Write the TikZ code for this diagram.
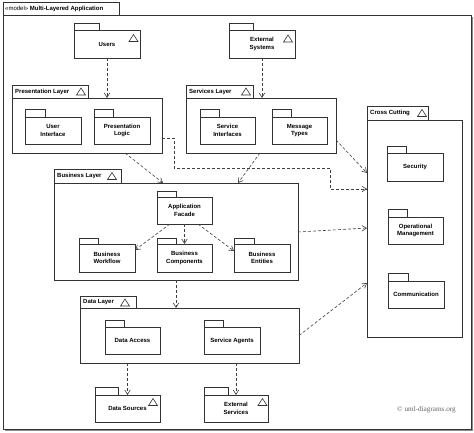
\documentclass[tikz,border=0pt]{standalone}
\usepackage{fontspec}
\setmainfont{Liberation Sans}
\newfontfamily\copyfont{Liberation Serif}
\usetikzlibrary{arrows.meta,calc}
\tikzset{
  ln/.style={draw=black!80, line width=0.6pt},
  pkgbody/.style={ln, rectangle, inner sep=0pt, outer sep=0pt, align=center,
    font=\fontsize{6}{7.4}\selectfont\bfseries},
  lbl/.style={inner sep=0pt, font=\fontsize{6}{7.4}\selectfont\bfseries},
  dep/.style={draw=black!75, line width=0.6pt, dash pattern=on 3pt off 2pt,
    -{Straight Barb[length=4.5pt,width=5.5pt]}},
}
% package: name, x1, tab top, tab x2, body top, x2, bottom, text
\newcommand\pkg[8]{%
  \pgfmathsetmacro\pkgw{#6-#2}\pgfmathsetmacro\pkgh{#7-#5}%
  \draw[ln] (#2,#5) |- (#4,#3) -- (#4,#5);
  \node[pkgbody, minimum width=\pkgw pt, minimum height=\pkgh pt] (#1) at ({(#2+#6)/2},{(#5+#7)/2}) {#8};
}
% layer: same arguments, text in the tab
\newcommand\layer[8]{%
  \pgfmathsetmacro\pkgw{#6-#2}\pgfmathsetmacro\pkgh{#7-#5}%
  \draw[ln] (#2,#5) |- (#4,#3) -- (#4,#5);
  \node[pkgbody, minimum width=\pkgw pt, minimum height=\pkgh pt] (#1) at ({(#2+#6)/2},{(#5+#7)/2}) {};
  \node[lbl, anchor=west] (#1-lbl) at ({#2+3},{(#3+#5)/2}) {#8};
}
\newcommand\tri[2]{%
  \draw[ln, line join=miter] ({#1-4.5},{#2+3.5}) -- ({#1+4.5},{#2+3.5}) -- (#1,{#2-3.5}) -- cycle;
}
\begin{document}
\begin{tikzpicture}[x=1pt,y=-1pt]
\useasboundingbox (0,0) rectangle (474,432);
% outer model frame
\fill[black!45] (5,17) rectangle (473,431);
\draw[ln, fill=white] (3,15) rectangle (471,429);
\draw[ln] (3,15) |- (119,2) -- (119,15);
\node[lbl, anchor=west] (title) at (5,8.5) {{\mdseries «model»} Multi-Layered Application};

% top packages
\pkg{users}{74}{23}{99}{30}{140}{58}{Users}
\tri{133.5}{38}
\pkg{extsys}{229}{23}{253}{30}{295}{58}{External\\Systems}
\tri{288}{38.5}

% presentation layer
\layer{pres}{12}{85}{88}{98}{162}{153}{Presentation Layer}
\tri{81}{91.5}
\pkg{ui}{25}{109}{45}{117}{81}{144}{User\\Interface}
\pkg{plogic}{94}{109}{113}{117}{150}{144}{Presentation\\Logic}

% services layer
\layer{serv}{186}{85}{253}{98}{336}{153}{Services Layer}
\tri{246}{91.5}
\pkg{svcint}{200}{109}{219}{117}{255}{144}{Service\\Interfaces}
\pkg{msg}{272}{109}{291}{117}{327}{144}{Message\\Types}

% cross cutting
\layer{cross}{367}{106}{428}{120}{462}{337}{Cross Cutting}
\tri{422}{113}
\pkg{sec}{387}{146}{406}{153}{443}{181}{Security}
\pkg{ops}{388}{209}{407}{217}{443}{244}{Operational\\Management}
\pkg{comm}{388}{273}{408}{281}{444}{308}{Communication}

% business layer
\layer{bus}{54}{169}{121}{183}{298}{280}{Business Layer}
\tri{112}{176}
\pkg{fac}{157}{191}{176}{197}{212}{224}{Application\\Facade}
\pkg{wf}{79}{238}{98}{244}{135}{272}{Business\\Workflow}
\pkg{comp}{157}{238}{176}{244}{212}{272}{Business\\Components}
\pkg{ent}{234}{238}{254}{244}{290}{272}{Business\\Entities}

% data layer
\layer{data}{80}{296}{136}{308}{299}{363}{Data Layer}
\tri{125}{302.5}
\pkg{dacc}{105}{320}{124}{327}{160}{354}{Data Access}
\pkg{sagt}{204}{320}{223}{327}{260}{354}{Service Agents}

% bottom packages
\pkg{dsrc}{95}{387}{118}{395}{160}{422}{Data Sources}
\tri{153}{402}
\pkg{extsvc}{204}{387}{228}{395}{268}{422}{External\\Services}
\tri{262.5}{402}

% copyright
\node[inner sep=0pt, text=black!60, font=\copyfont\fontsize{7.2}{8}\selectfont] (copy) at (426.5,410) {© uml-diagrams.org};

% dependencies
\draw[dep] (users.south) -- (users.south |- pres.north);
\draw[dep] (extsys.south) -- (extsys.south |- serv.north);
\draw[dep] ($(pres.south west)+(113,0)$) -- ($(bus.north west)+(109,0)$);
\draw[dep] ($(serv.south west)+(74,0)$) -- ($(bus.north west)+(184,0)$);
\coordinate (k1) at (174,168);
\coordinate (k2) at (330,189);
\draw[dep] ($(pres.south east)+(0,-15)$) -| (k1) -| (k2) -- (cross.west |- k2);
\draw[dep] ($(serv.south east)+(0,-13)$) -- ($(cross.north west)+(0,53)$);
\draw[dep] ($(bus.south east)+(0,-48)$) -- ($(cross.north west)+(0,108)$);
\draw[dep] (data.east) -- ($(cross.north west)+(0,163)$);
\draw[dep] (bus.south) -- (bus.south |- data.north);
\draw[dep] ($(fac.south)+(-14.5,0)$) -- ($(wf.north east)+(0,6)$);
\draw[dep] (fac.south) -- (comp.north);
\draw[dep] ($(fac.south)+(13.5,0)$) -- ($(ent.north west)+(0,7)$);
\draw[dep] (dsrc.north |- data.south) -- (dsrc.north);
\draw[dep] (extsvc.north |- data.south) -- (extsvc.north);
\end{tikzpicture}
\end{document}
